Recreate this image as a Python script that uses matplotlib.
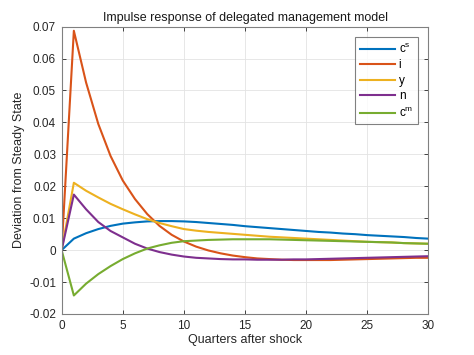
import matplotlib
matplotlib.use("Agg")
import matplotlib.pyplot as plt

plt.rcParams['font.family'] = ['Liberation Sans', 'DejaVu Sans']
plt.rcParams['mathtext.fontset'] = 'custom'
plt.rcParams['mathtext.rm'] = 'Liberation Sans'

quarters = list(range(31))
c_s = [0, 0.0036, 0.0053, 0.0066, 0.0076, 0.0083, 0.0087, 0.0090, 0.0091, 0.0091, 0.0090,
       0.0088, 0.0085, 0.0082, 0.0079, 0.0075, 0.0072, 0.0069, 0.0066, 0.0063, 0.0060,
       0.0057, 0.0055, 0.0052, 0.0050, 0.0047, 0.0045, 0.0043, 0.0041, 0.0038, 0.0036]
inv = [0, 0.0687, 0.0525, 0.0395, 0.0295, 0.0218, 0.0160, 0.0113, 0.0076, 0.0048, 0.0027,
       0.0011, -0.0001, -0.0010, -0.0017, -0.0022, -0.0026, -0.0028, -0.0030, -0.0031, -0.0031,
       -0.0031, -0.0031, -0.0030, -0.0029, -0.0028, -0.0027, -0.0026, -0.0025, -0.0024, -0.0024]
y_out = [0, 0.0211, 0.0186, 0.0165, 0.0145, 0.0128, 0.0112, 0.0097, 0.0085, 0.0075, 0.0066,
         0.0061, 0.0057, 0.0054, 0.0051, 0.0048, 0.0045, 0.0042, 0.0040, 0.0038, 0.0036,
         0.0034, 0.0032, 0.0030, 0.0028, 0.0026, 0.0025, 0.0024, 0.0022, 0.0021, 0.0020]
n_lab = [0, 0.0174, 0.0128, 0.0088, 0.0060, 0.0040, 0.0020, 0.0005, -0.0006, -0.0014, -0.0020,
         -0.0024, -0.0026, -0.0028, -0.0029, -0.0029, -0.0030, -0.0030, -0.0030, -0.0029, -0.0029,
         -0.0028, -0.0027, -0.0026, -0.0025, -0.0024, -0.0023, -0.0022, -0.0021, -0.0020, -0.0019]
c_m = [0, -0.0142, -0.0105, -0.0075, -0.0050, -0.0028, -0.0010, 0.0005, 0.0015, 0.0023, 0.0028,
       0.0030, 0.0032, 0.0033, 0.0034, 0.0034, 0.0034, 0.0034, 0.0033, 0.0032, 0.0031,
       0.0030, 0.0029, 0.0028, 0.0027, 0.0026, 0.0025, 0.0024, 0.0022, 0.0021, 0.0020]

labels = ['c$^{\\mathregular{s}}$', 'i', 'y', 'n', 'c$^{\\mathregular{m}}$']
colors = ['#0072BD', '#D95319', '#EDB120', '#7E2F8E', '#77AC30']
series = [c_s, inv, y_out, n_lab, c_m]

fig = plt.figure(figsize=(4.74, 3.55), dpi=100)
ax = fig.add_axes([0.130, 0.1155, 0.774, 0.8095])
for s, lab, col in zip(series, labels, colors):
    ax.plot(quarters, s, color=col, lw=1.5, label=lab)

ax.set_xlim(0, 30)
ax.set_ylim(-0.02, 0.07)
ax.set_xticks([0, 5, 10, 15, 20, 25, 30])
ax.set_yticks([-0.02, -0.01, 0, 0.01, 0.02, 0.03, 0.04, 0.05, 0.06, 0.07])
ax.set_yticklabels(['-0.02', '-0.01', '0', '0.01', '0.02', '0.03', '0.04', '0.05', '0.06', '0.07'])
ax.grid(True, color='#e3e3e3', lw=0.6)
ax.set_axisbelow(True)
ax.tick_params(direction='in', top=True, right=True, labelsize=8.5, colors='#262626',
               length=3, width=0.6, pad=4)
for sp in ax.spines.values():
    sp.set_color('#808080')
    sp.set_linewidth(0.8)
ax.set_title('Impulse response of delegated management model', fontsize=9, color='#1a1a1a', pad=4)
ax.set_xlabel('Quarters after shock', fontsize=9, color='#262626', labelpad=2)
ax.set_ylabel('Deviation from Steady State', fontsize=9, color='#262626', labelpad=3)
leg = ax.legend(loc='upper right', fontsize=8.5, frameon=True, fancybox=False,
                edgecolor='#606060', handlelength=3.0, handletextpad=0.3,
                labelspacing=0.3, borderpad=0.4, borderaxespad=0,
                bbox_to_anchor=(0.971, 0.963))
leg.get_frame().set_linewidth(0.8)

fig.savefig('out.png', dpi=100)
